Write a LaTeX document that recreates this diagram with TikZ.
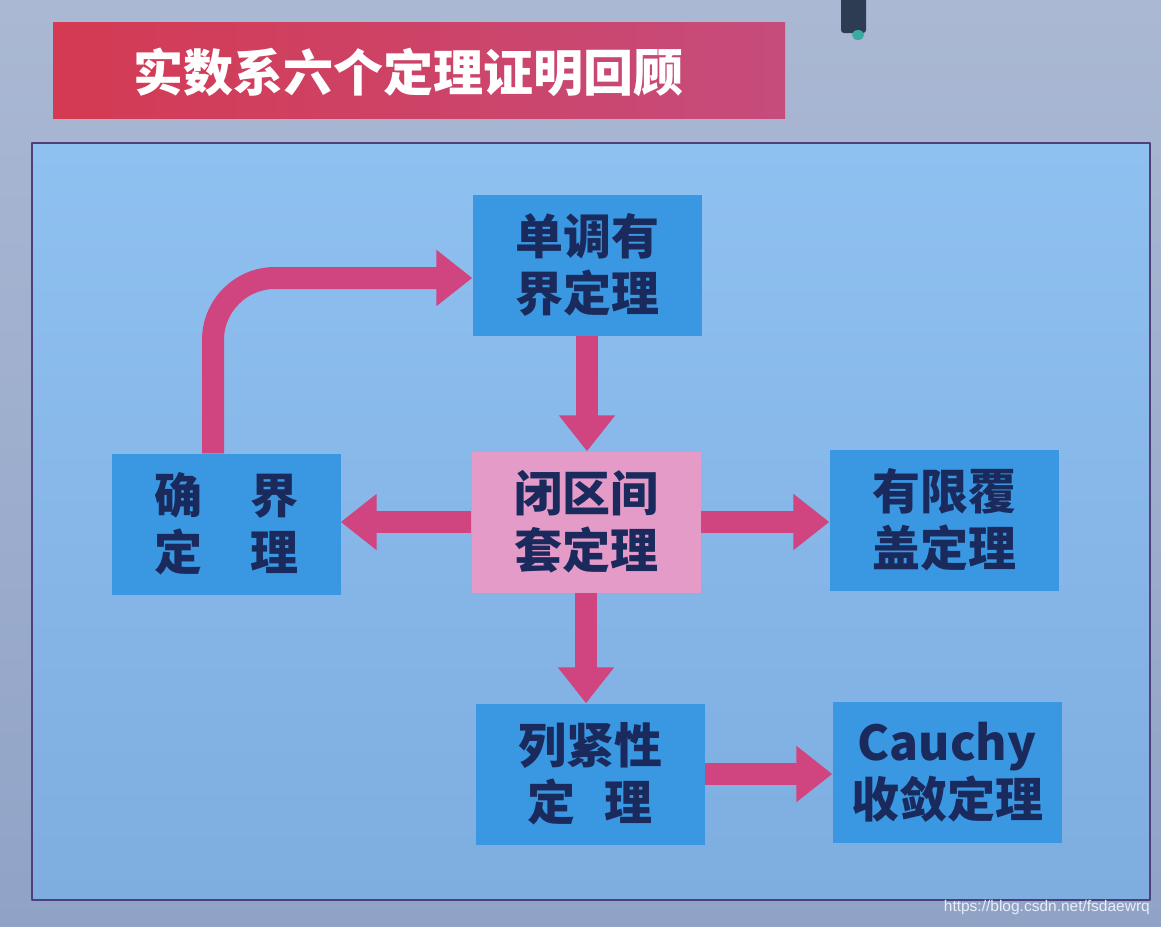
\documentclass[tikz,border=0pt]{standalone}
\usepackage{fontspec}
\newfontfamily\cjk{Noto Sans CJK SC}
\setsansfont{Liberation Sans}
\usetikzlibrary{arrows.meta}
\definecolor{boxblue}{HTML}{3A97E2}
\definecolor{boxtext}{HTML}{1B2A5C}
\definecolor{midpink}{HTML}{E49BC8}
\definecolor{arrowpink}{HTML}{D0447F}
\definecolor{framebd}{HTML}{4F4079}
\definecolor{slidetop}{HTML}{AAB8D3}
\definecolor{slidebot}{HTML}{90A3C7}
\definecolor{frametop}{HTML}{8EC0F0}
\definecolor{framebot}{HTML}{7EAEE0}
\definecolor{titleleft}{HTML}{D43A52}
\definecolor{titleright}{HTML}{C64C7C}
\definecolor{penbody}{HTML}{2D3C52}
\definecolor{pentip}{HTML}{3CAAA0}
\definecolor{marktext}{HTML}{E8EEF8}
\begin{document}
\begin{tikzpicture}[x=1pt,y=-1pt,line join=round,
  box/.style={fill=boxblue,text=boxtext,minimum width=229pt,minimum height=141pt,
    inner sep=0pt,align=center,font=\cjk\bfseries\fontsize{48}{57}\selectfont},
  bigarrow/.style={draw=arrowpink,line width=22pt,-{Triangle[length=36pt,width=54pt]}}]
\useasboundingbox (0,0) rectangle (1161,926);
% slide background
\shade[top color=slidetop,bottom color=slidebot] (0,0) rectangle (1161,926);
% pen on the screen
\fill[penbody,rounded corners=3pt] (841,-5) rectangle (866,33);
\fill[pentip] (858,35) ellipse (6pt and 5pt);
% title bar
\shade[left color=titleleft,right color=titleright] (53,22) rectangle (785,118);
\node[text=white,font=\cjk\bfseries\fontsize{50}{50}\selectfont,anchor=west,inner sep=0pt] (title) at (133,72) {实数系六个定理证明回顾};
% frame
\shade[top color=frametop,bottom color=framebot] (32,143) rectangle (1150,900);
\draw[framebd,line width=2.5pt] (32,143) rectangle (1150,900);
% theorems
\node[box] (mono) at (587,265) {单调有\\界定理};
\node[box] (sup) at (226,524) {确\hspace{1em}界\\定\hspace{1em}理};
\node[box,fill=midpink] (nest) at (586,522) {闭区间\\套定理};
\node[box] (cover) at (944,520) {有限覆\\盖定理};
\node[box] (seq) at (590,774) {列紧性\\定\hspace{0.6em}理};
\node[box] (cauchy) at (947,772) {Cauchy\\收敛定理};
% arrows
\draw[bigarrow] (mono.south) -- (mono.south |- nest.north);
\draw[bigarrow] (nest.west) -- (nest.west -| sup.east);
\draw[bigarrow] (nest.east) -- (nest.east -| cover.west);
\draw[bigarrow] (nest.south) -- (nest.south |- seq.north);
\draw[bigarrow] (seq.east) -- (seq.east -| cauchy.west);
\draw[bigarrow,rounded corners=62pt] ([xshift=-13pt]sup.north) |- ([yshift=-13pt]mono.west);
% watermark
\node[text=marktext,font=\sffamily\fontsize{15.5}{15.5}\selectfont,anchor=east,inner sep=0pt] (mark) at (1150,907) {https://blog.csdn.net/fsdaewrq};
\end{tikzpicture}
\end{document}
